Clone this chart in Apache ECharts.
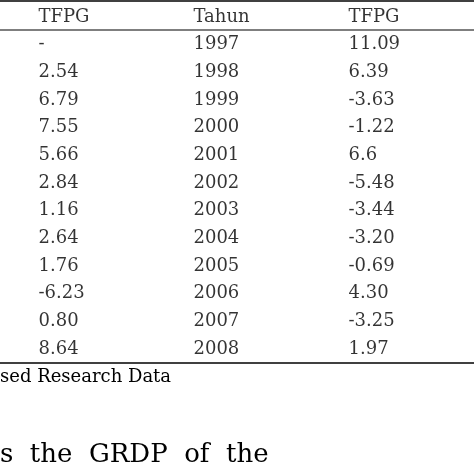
<!DOCTYPE html>
<html><head><meta charset="utf-8">
<script src="https://cdn.jsdelivr.net/npm/echarts@6/dist/echarts.min.js"></script>
<style>html,body{margin:0;padding:0;background:#fff}#main{width:474px;height:474px}</style>
</head><body><div id="main"></div>
<script>
var headers = ['TFPG', 'Tahun', 'TFPG'];
var leftTfpg = ['-', '2.54', '6.79', '7.55', '5.66', '2.84', '1.16', '2.64', '1.76', '-6.23', '0.80', '8.64'];
var years = ['1997', '1998', '1999', '2000', '2001', '2002', '2003', '2004', '2005', '2006', '2007', '2008'];
var rightTfpg = ['11.09', '6.39', '-3.63', '-1.22', '6.6', '-5.48', '-3.44', '-3.20', '-0.69', '4.30', '-3.25', '1.97'];
var note = 'sed Research Data';
var bodyText = 's  the  GRDP  of  the';

var rows = ['h'].concat(years);
var cells = [];
headers.forEach(function (h, c) { cells.push([c, 0, h]); });
for (var i = 0; i < years.length; i++) {
    cells.push([0, i + 1, leftTfpg[i]]);
    cells.push([1, i + 1, years[i]]);
    cells.push([2, i + 1, rightTfpg[i]]);
}

var font = 'DejaVu Serif';
var myChart = echarts.init(document.getElementById('main'));
myChart.setOption({
    animation: false,
    grid: { left: 0, width: 465, top: 3, height: 360 },
    xAxis: { type: 'category', data: headers.map(function (h, i) { return i; }), show: false },
    yAxis: { type: 'category', data: rows, inverse: true, show: false },
    series: [{
        type: 'scatter',
        symbolSize: 0,
        data: cells,
        label: {
            show: true,
            position: 'inside',
            align: 'left',
            offset: [-39, 0],
            fontFamily: font,
            fontSize: 18,
            color: '#000',
            textBorderWidth: 0,
            formatter: function (p) { return p.value[2]; }
        }
    }],
    graphic: [
        { type: 'line', shape: { x1: 0, y1: 1, x2: 474, y2: 1 }, style: { stroke: '#000', lineWidth: 1.5 } },
        { type: 'line', shape: { x1: 0, y1: 30, x2: 474, y2: 30 }, style: { stroke: '#000', lineWidth: 1.2 } },
        { type: 'line', shape: { x1: 0, y1: 363, x2: 474, y2: 363 }, style: { stroke: '#000', lineWidth: 1.5 } },
        { type: 'text', left: 0, top: 368, style: { text: note, font: '18px "' + font + '"', fill: '#000' } },
        { type: 'text', left: 0, top: 442, style: { text: bodyText, font: '26px "' + font + '"', fill: '#000' } }
    ]
});
</script></body></html>
